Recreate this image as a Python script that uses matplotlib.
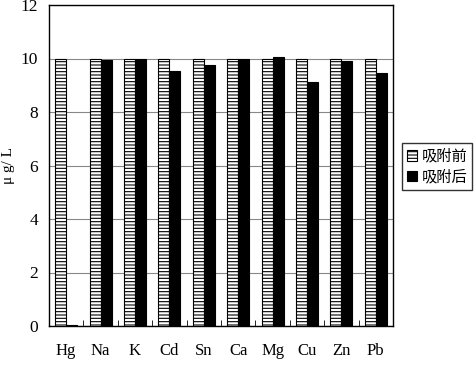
import numpy as np
import matplotlib.pyplot as plt

plt.rcParams['font.family'] = ['Liberation Serif', 'Noto Sans CJK SC']
plt.rcParams['hatch.linewidth'] = 0.8

# ── data ────────────────────────────────────────────────────────────────
elements = ['Hg', 'Na', 'K', 'Cd', 'Sn', 'Ca', 'Mg', 'Cu', 'Zn', 'Pb']
before = [10, 10, 10, 10, 10, 10, 10, 10, 10, 10]
after = [0.05, 9.95, 10.0, 9.52, 9.74, 10.0, 10.05, 9.12, 9.9, 9.47]

x = np.arange(len(elements))
w = 0.32

fig = plt.figure(figsize=(4.74, 3.70), dpi=100)
ax = fig.add_axes([49 / 474, 1 - 326 / 370, 344 / 474, 321 / 370])

ax.bar(x - w / 2, before, w, color='white', edgecolor='black', linewidth=0.8,
       hatch='-----', label='吸附前', zorder=3)
ax.bar(x + w / 2, after, w, color='black', edgecolor='black', linewidth=0.8,
       label='吸附后', zorder=3)

ax.set_xlim(-0.5, len(elements) - 0.5)
ax.set_ylim(0, 12)
ax.set_yticks(range(0, 13, 2))
ax.yaxis.grid(True, color='#888888', linewidth=0.8, zorder=0)
ax.set_xticks(x)
ax.set_xticklabels(elements, fontsize=12)
ax.set_xticks(np.arange(0.5, len(elements) - 0.5, 1), minor=True)
ax.tick_params(axis='x', which='major', length=0, pad=12)
ax.tick_params(axis='x', which='minor', direction='in', length=4)
ax.tick_params(axis='y', length=0, labelsize=12.5, pad=8)
ax.set_ylabel('μ g/ L', fontsize=11, labelpad=4)
for s in ax.spines.values():
    s.set_linewidth(1.0)

fig.legend(loc='upper left', bbox_to_anchor=(402 / 474, 1 - 143 / 370),
           frameon=True, fancybox=False, edgecolor='black',
           handlelength=0.7, handleheight=0.7, handletextpad=0.3,
           borderpad=0.3, labelspacing=0.25, borderaxespad=0,
           prop={'family': 'Noto Sans CJK SC', 'size': 11})

fig.savefig('out.png', dpi=100)
